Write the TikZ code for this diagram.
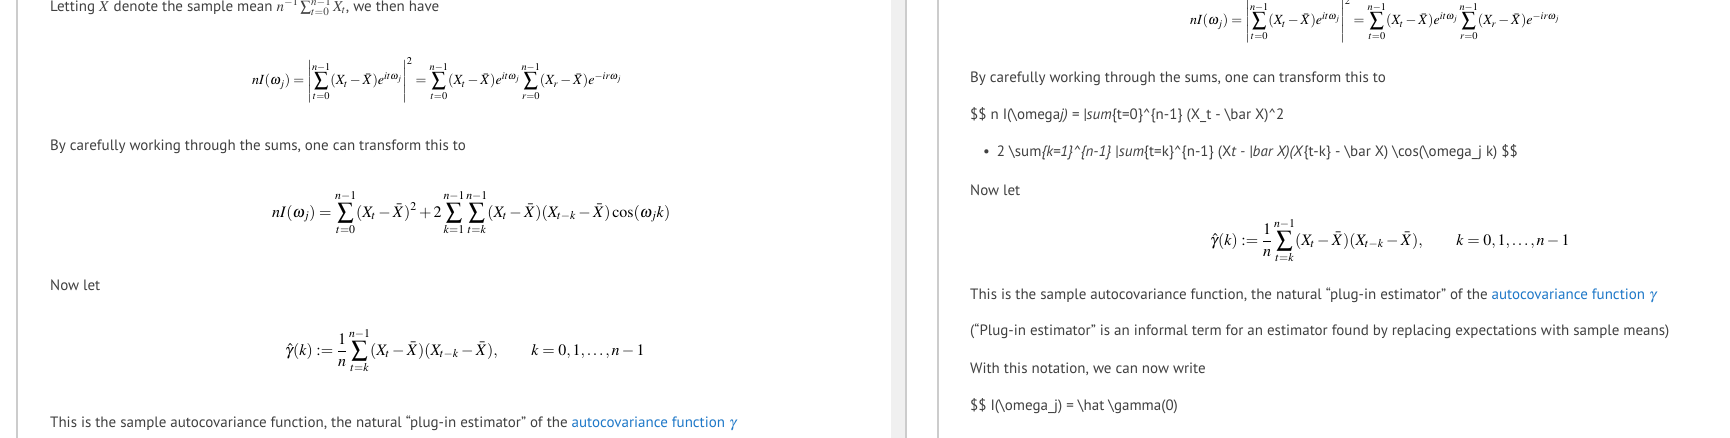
\documentclass[tikz,border=0pt]{standalone}
\usepackage{amsmath}
\usepackage{mathptmx}
\usepackage[no-math]{fontspec}
\setmainfont{PT Sans}
\definecolor{txt}{HTML}{404040}
\definecolor{lnk}{HTML}{1E78C8}
\definecolor{panelgrey}{HTML}{F0F0F0}
\definecolor{rule}{HTML}{CCCCCC}
\begin{document}
\begin{tikzpicture}[x=1pt,y=-1pt,
  para/.style={anchor=west,inner sep=0pt,text=txt,font=\fontsize{15}{18}\selectfont},
  eqn/.style={anchor=west,inner sep=0pt,text=black,font=\fontsize{14}{17}\selectfont},
  eqnbig/.style={anchor=west,inner sep=0pt,text=black,font=\fontsize{16}{19}\selectfont}]
\useasboundingbox (0,0) rectangle (1730,438);
\clip (0,0) rectangle (1730,438);
\fill[white] (0,0) rectangle (1730,438);
\fill[panelgrey] (891,0) rectangle (905,438);
\fill[rule] (905,0) rectangle (907,438);
\fill[rule] (937,0) rectangle (939,438);
\fill[rule] (16,0) rectangle (18,438);
% left panel
\node[para] (l1) at (50,7) {Letting $X$ denote the sample mean $n^{-1}\sum_{t=0}^{n-1}X_t$, we then have};
\node[eqn] (le1) at (252,80) {$\displaystyle nI(\omega_j)=\left|\sum_{t=0}^{n-1}(X_t-\bar X)e^{it\omega_j}\right|^2=\sum_{t=0}^{n-1}(X_t-\bar X)e^{it\omega_j}\sum_{r=0}^{n-1}(X_r-\bar X)e^{-ir\omega_j}$};
\node[para] (l2) at (50,147) {By carefully working through the sums, one can transform this to};
\node[eqnbig] (le2) at (272,213) {$\displaystyle nI(\omega_j)=\sum_{t=0}^{n-1}(X_t-\bar X)^2+2\sum_{k=1}^{n-1}\sum_{t=k}^{n-1}(X_t-\bar X)(X_{t-k}-\bar X)\cos(\omega_j k)$};
\node[para] (l3) at (50,285) {Now let};
\node[eqnbig] (le3) at (285,351) {$\displaystyle \hat\gamma(k):=\frac{1}{n}\sum_{t=k}^{n-1}(X_t-\bar X)(X_{t-k}-\bar X),\qquad k=0,1,\dots,n-1$};
\node[para] (l4) at (50,423) {This is the sample autocovariance function, the natural “plug-in estimator” of the \textcolor{lnk}{autocovariance function $\gamma$}};
% right panel
\node[eqn] (re1) at (1190,20) {$\displaystyle nI(\omega_j)=\left|\sum_{t=0}^{n-1}(X_t-\bar X)e^{it\omega_j}\right|^2=\sum_{t=0}^{n-1}(X_t-\bar X)e^{it\omega_j}\sum_{r=0}^{n-1}(X_r-\bar X)e^{-ir\omega_j}$};
\node[para] (r2) at (970,79) {By carefully working through the sums, one can transform this to};
\node[para] (r3) at (970,115) {\$\$ n I(\textbackslash omega\textit{j) = |sum}\{t=0\}\^{}\{n-1\} (X\_t - \textbackslash bar X)\^{}2};
\node[para] (r4) at (983,152) {\textbullet\hspace{7pt}2 \textbackslash sum\textit{\{k=1\}\^{}\{n-1\}} |\textit{sum}\{t=k\}\^{}\{n-1\} (X\textit{t - |bar X)(X}\{t-k\} - \textbackslash bar X) \textbackslash cos(\textbackslash omega\_j k) \$\$};
\node[para] (r5) at (970,190) {Now let};
\node[eqnbig] (re3) at (1210,241) {$\displaystyle \hat\gamma(k):=\frac{1}{n}\sum_{t=k}^{n-1}(X_t-\bar X)(X_{t-k}-\bar X),\qquad k=0,1,\dots,n-1$};
\node[para] (r6) at (970,295) {This is the sample autocovariance function, the natural “plug-in estimator” of the \textcolor{lnk}{autocovariance function $\gamma$}};
\node[para] (r7) at (970,331) {(“Plug-in estimator” is an informal term for an estimator found by replacing expectations with sample means)};
\node[para] (r8) at (970,369) {With this notation, we can now write};
\node[para] (r9) at (970,406) {\$\$ I(\textbackslash omega\_j) = \textbackslash hat \textbackslash gamma(0)};
\end{tikzpicture}
\end{document}
